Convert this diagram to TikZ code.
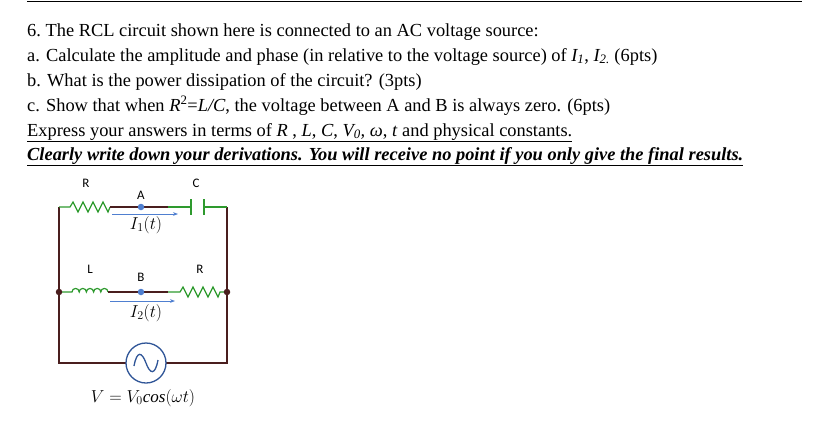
\documentclass[tikz,border=0pt]{standalone}
\usepackage{fontspec}
\setmainfont{Liberation Serif}
\newfontfamily\lblfont{Carlito}
\usetikzlibrary{arrows.meta}
\definecolor{wire}{HTML}{4A1E1E}
\definecolor{comp}{HTML}{2E9A2E}
\definecolor{arr}{HTML}{4F7FD0}
\definecolor{src}{HTML}{2F5597}
\tikzset{
 txt/.style={anchor=base west,inner sep=0pt,font=\fontsize{18.4}{20}\selectfont},
 lbl/.style={inner sep=0pt,font=\lblfont\fontsize{13}{15}\selectfont},
 mlbl/.style={inner sep=0pt,font=\fontsize{17}{19}\selectfont},
 wr/.style={draw=wire,line width=1.2pt},
 cp/.style={draw=comp,line width=1.2pt},
 ia/.style={draw=arr,line width=0.8pt,-{Stealth[length=5pt]}},
 dotn/.style={circle,fill=arr,inner sep=0pt,minimum size=6.5pt},
 jn/.style={circle,fill=wire,inner sep=0pt,minimum size=6.5pt}
}
\begin{document}
\begin{tikzpicture}[x=1pt,y=-1pt]
\useasboundingbox (0,0) rectangle (835,432);
\draw[line width=1.8pt] (27,1.5) -- (802,1.5);
\node[txt] (t1) at (27,36) {6.\ The RCL circuit shown here is connected to an AC voltage source:};
\node[txt] (t2) at (27,61) {a. Calculate the amplitude and phase (in relative to the voltage source) of \textit{I\textsubscript{1}}, \textit{I\textsubscript{2.}} (6pts)};
\node[txt] (t3) at (27,86) {b. What is the power dissipation of the circuit? (3pts)};
\node[txt] (t4) at (27,111) {c. Show that when \textit{R}\textsuperscript{2}=\textit{L/C}, the voltage between A and B is always zero. (6pts)};
\node[txt] (t5) at (27,136) {\underline{Express your answers in terms of \textit{R} , \textit{L}, \textit{C}, \textit{V\textsubscript{0},} \textit{ω}, \textit{t} and physical constants.}};
\node[txt] (t6) at (27,160) {\underline{\textbf{\textit{Clearly write down your derivations. You will receive no point if you only give the final results.}}}};
% circuit coordinates
\coordinate (TL) at (59,207); \coordinate (TR) at (227,207);
\coordinate (ML) at (59,292); \coordinate (MR) at (227,292);
\coordinate (BL) at (59,363); \coordinate (BR) at (227,363);
% outer wires
\draw[wr] (TL) -- (ML) -- (BL) -- (126,363);
\draw[wr] (166,363) -- (BR) -- (MR) -- (TR);
% top branch
\draw[cp] (TL) -- (70,207) -- (73,202) -- (78,212) -- (83,202) -- (88,212) -- (93,202) -- (98,212) -- (103,202) -- (108,212) -- (110,207);
\draw[wr] (110,207) -- (168,207);
\draw[cp] (168,207) -- (191,207) (191,199) -- (191,215) (204,199) -- (204,215) (204,207) -- (TR);
\node[dotn] (A) at (141,207) {};
% middle branch
\draw[cp] (ML) -- (72,292) \foreach \i in {0,...,4} { arc[start angle=180,end angle=360,radius=3.6] } -- (108,292);
\draw[wr] (108,292) -- (168,292);
\draw[cp] (168,292) -- (180,292) -- (183,287) -- (188,297) -- (193,287) -- (198,297) -- (203,287) -- (208,297) -- (213,287) -- (218,297) -- (220,292) -- (MR);
\node[dotn] (B) at (141,292) {};
\node[jn] (J1) at (ML) {}; \node[jn] (J2) at (MR) {};
% source
\node[circle,draw=src,line width=1.3pt,minimum size=40pt,inner sep=0pt] (S) at (146,363) {};
\draw[src,line width=1.3pt] (134,366) .. controls (137,350) and (142,352) .. (146,363) .. controls (150,374) and (155,376) .. (158,360);
% labels
\node[lbl] (lR1) at (86,183) {R};
\node[lbl] (lA) at (141,195) {A};
\node[lbl] (lC) at (196,183) {C};
\node[lbl] (lL) at (90,269) {L};
\node[lbl] (lB) at (141,277) {B};
\node[lbl] (lR2) at (200,269) {R};
\coordinate (a1s) at (112,214); \coordinate (a1e) at (178,214);
\draw[ia] (a1s) -- (a1e);
\coordinate (a2s) at (110,301); \coordinate (a2e) at (175,301);
\draw[ia] (a2s) -- (a2e);
\node[mlbl] (i1) at (146,225) {$I_1(t)$};
\node[mlbl] (i2) at (146,313) {$I_2(t)$};
\node[mlbl] (vl) at (143,398) {$V=V_0\mathit{cos}(\omega t)$};
\end{tikzpicture}
\end{document}
